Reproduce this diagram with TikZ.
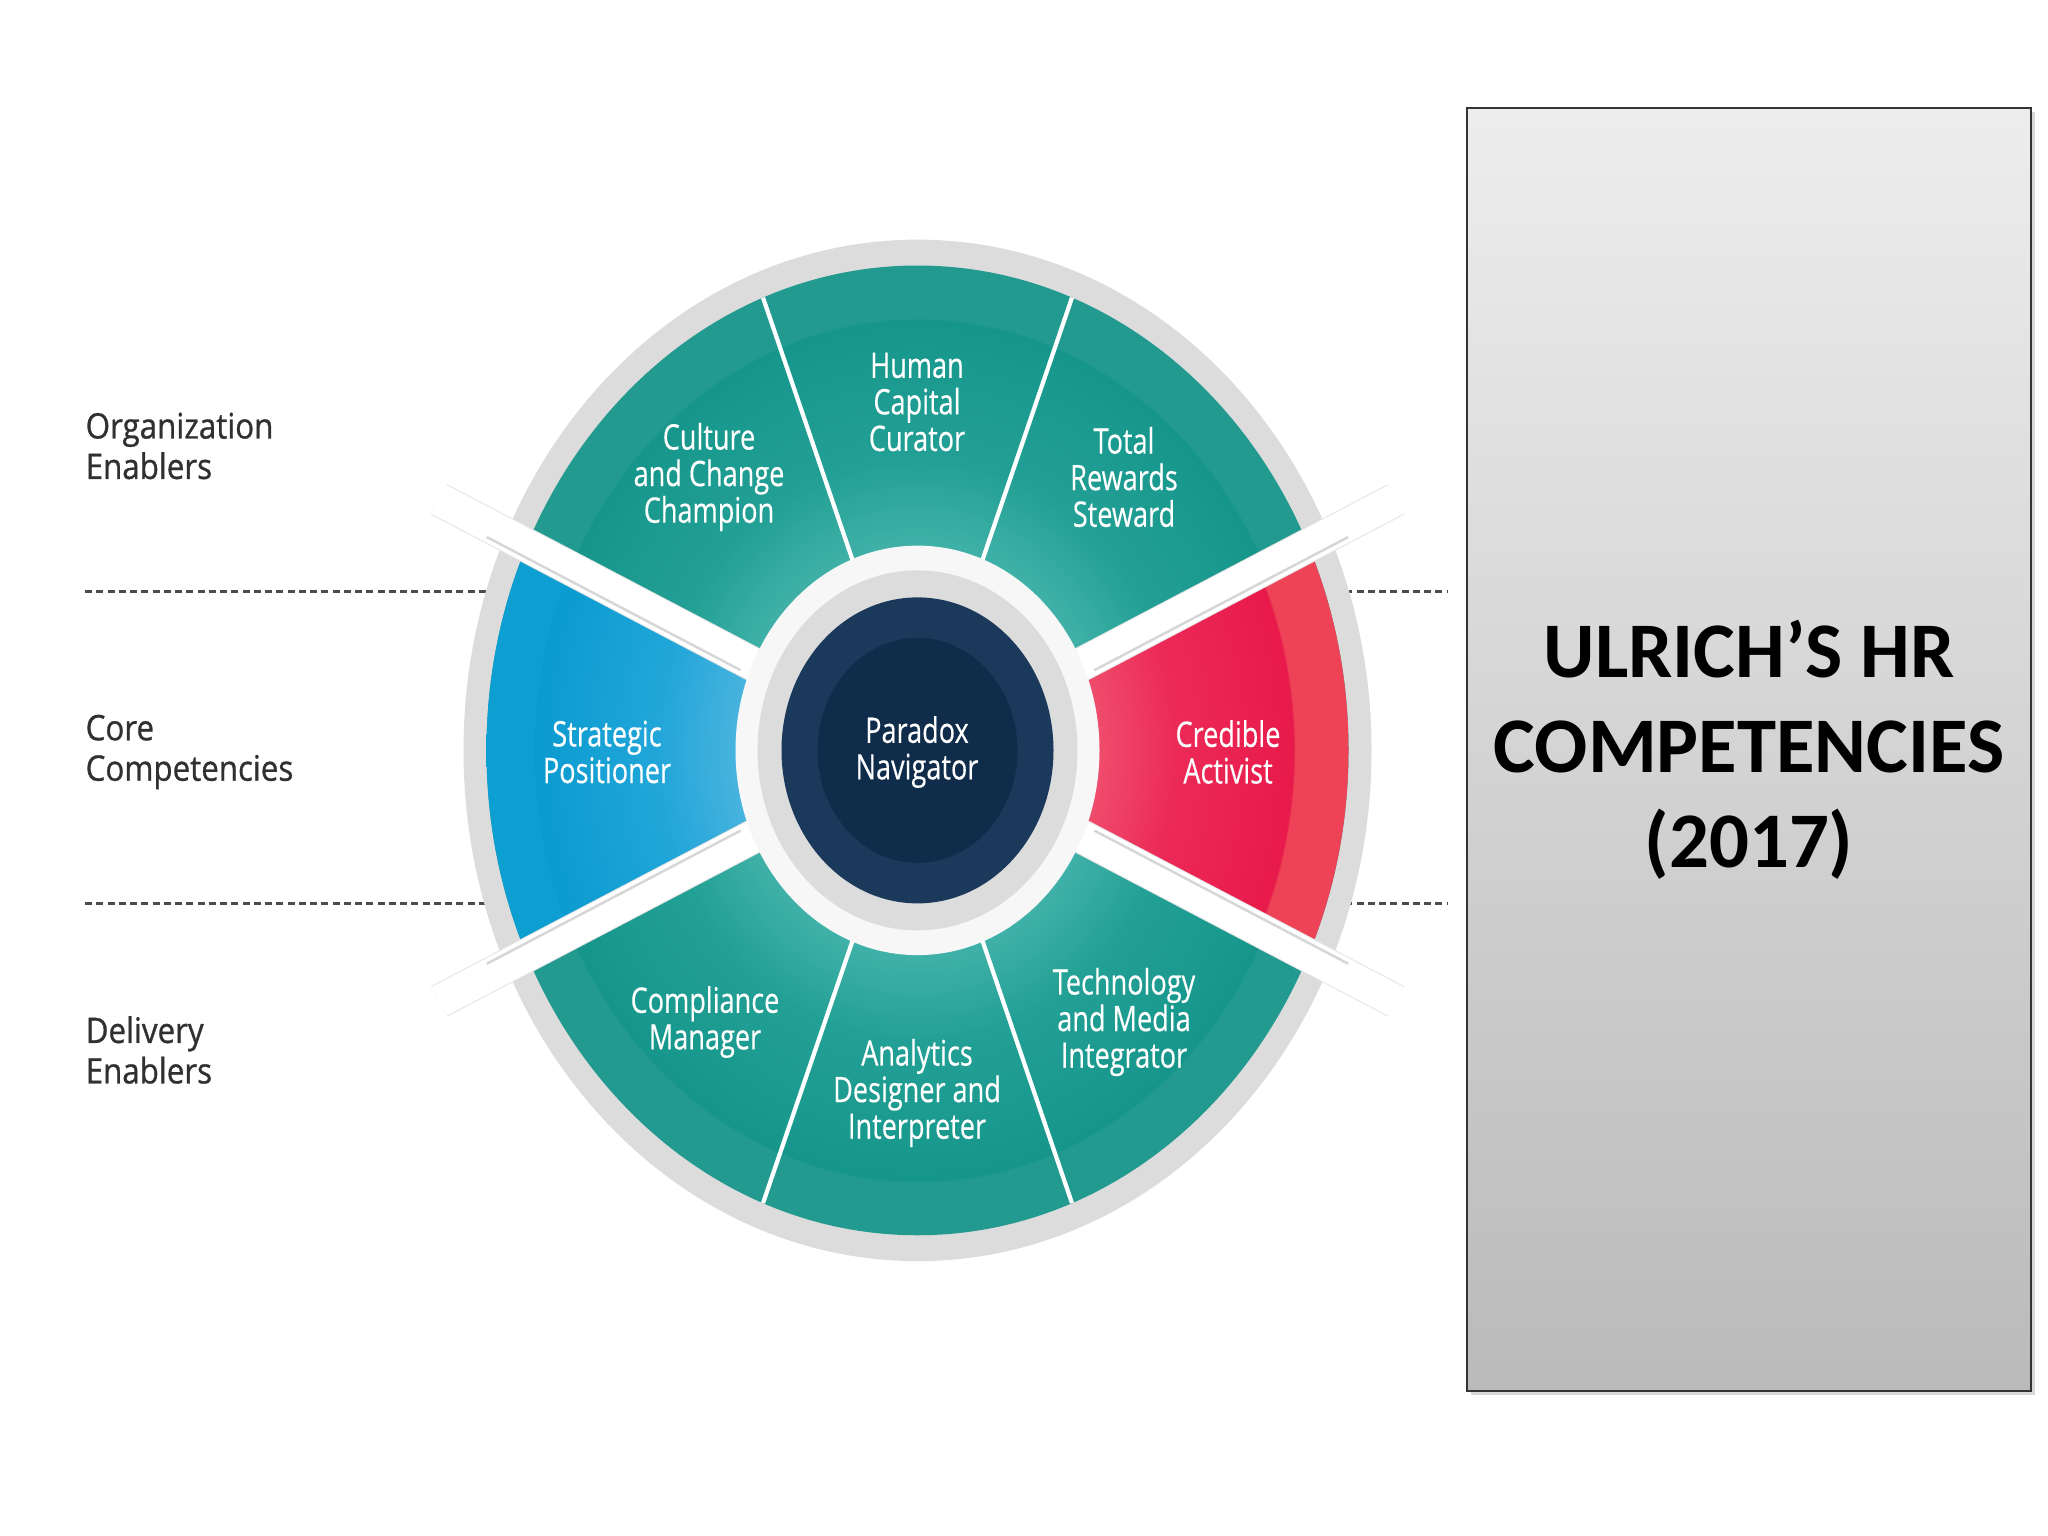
\documentclass[tikz,border=0pt]{standalone}
\usepackage{fontspec}
\setmainfont{Open Sans}
\newfontfamily\labelfont[FakeStretch=0.89, FakeBold=0.8]{Open Sans}
\newfontfamily\wheelfont[FakeStretch=0.77, FakeBold=0.3]{Open Sans}
\newfontfamily\titlefont{Carlito}
\usetikzlibrary{shadows}
\definecolor{tealhub}{HTML}{40B1A8}
\definecolor{tealmid}{HTML}{23A095}
\definecolor{tealdeep}{HTML}{16968B}
\definecolor{tealband}{HTML}{239A90}
\definecolor{bluehub}{HTML}{48B3DE}
\definecolor{bluemid}{HTML}{22A6D9}
\definecolor{bluedeep}{HTML}{0A9BD0}
\definecolor{blueband}{HTML}{0D9ED2}
\definecolor{redhub}{HTML}{EF4C6C}
\definecolor{redmid}{HTML}{EC2A57}
\definecolor{reddeep}{HTML}{E81A4B}
\definecolor{redband}{HTML}{EE4357}
\definecolor{navyout}{HTML}{1B3A5B}
\definecolor{navyin}{HTML}{0F2C4B}
\definecolor{ringgray}{HTML}{DCDCDC}
\definecolor{labelgray}{HTML}{303030}
\pgfdeclareradialshading{tealglow}{\pgfpoint{0bp}{0bp}}{color(0bp)=(tealhub); color(10.5bp)=(tealhub); color(15bp)=(tealmid); color(22.2bp)=(tealdeep); color(22.3bp)=(tealband); color(25bp)=(tealband); color(50bp)=(tealband)}
\pgfdeclareradialshading{blueglow}{\pgfpoint{0bp}{0bp}}{color(0bp)=(bluehub); color(10.5bp)=(bluehub); color(15bp)=(bluemid); color(22.2bp)=(bluedeep); color(22.3bp)=(blueband); color(25bp)=(blueband); color(50bp)=(blueband)}
\pgfdeclareradialshading{redglow}{\pgfpoint{0bp}{0bp}}{color(0bp)=(redhub); color(10.5bp)=(redhub); color(15bp)=(redmid); color(21.8bp)=(reddeep); color(21.9bp)=(redband); color(25bp)=(redband); color(50bp)=(redband)}
\begin{document}
\begin{tikzpicture}[x=0.01cm, y=0.01cm,
  level/.style={anchor=west, align=left, inner sep=0pt, text=labelgray, font=\labelfont\fontsize{10}{11.5}\selectfont},
  role/.style={align=center, text=white, font=\wheelfont\fontsize{10}{10.4}\selectfont, inner sep=0pt},
  divider/.style={dash pattern=on 2pt off 1.2pt, line width=0.85pt, draw=black!70},
  titlebox/.style={draw=black!80, line width=0.6pt, top color=black!7, bottom color=black!27, minimum width=5.64cm, minimum height=12.83cm, align=center, font=\titlefont\bfseries\fontsize{22.4}{27}\selectfont, drop shadow={shadow xshift=0.04cm, shadow yshift=-0.04cm, opacity=0.3}}]
	\useasboundingbox (0,0) rectangle (2048,1536);
	\fill[white] (0,0) rectangle (2048,1536);
	\coordinate (upL) at (85,944);
	\coordinate (upR) at (1447,944);
	\coordinate (loL) at (85,632);
	\coordinate (loR) at (1447,632);
	\draw[divider] (upL) -- (upR);
	\draw[divider] (loL) -- (loR);
	\begin{scope}[shift={(917.5,785.6)}, yscale=1.125]
		\fill[ringgray] (0,0) circle (454);
		\shade[shading=tealglow] (0,0) circle (431);
		\begin{scope}
			\clip (0,0) -- (155:600) arc[start angle=155, end angle=205, radius=600] -- cycle;
			\shade[shading=blueglow] (0,0) circle (431);
		\end{scope}
		\begin{scope}
			\clip (0,0) -- (-25:600) arc[start angle=-25, end angle=25, radius=600] -- cycle;
			\shade[shading=redglow] (0,0) circle (431);
		\end{scope}
		\foreach \a in {69,111,249,291}
			\draw[white, line width=1.2pt] (\a:180) -- (\a:431);
		\foreach \a/\sx/\sy in {25/4.7/-9, 155/-4.7/-9, 205/-4.7/9, 335/4.7/9} {
			\draw[black!10, line width=9.8pt] (\a:170) -- (\a:528);
			\draw[white, line width=9.2pt] (\a:170) -- (\a:528);
			\draw[black!16, line width=0.7pt, shift={(\sx,\sy)}] (\a:190) -- (\a:470);
		}
		\fill[white!97!black] (0,0) circle (182);
		\fill[ringgray] (0,0) circle (160);
		\fill[navyout] (0,0) circle (136);
		\fill[navyin] (0,0) circle (100);
	\end{scope}
	\node[level] (org) at (85,1090) {Organization\\Enablers};
	\node[level] (core) at (85,784) {Core\\Competencies};
	\node[level] (delivery) at (85,486) {Delivery\\Enablers};
	\node[role] (hcc) at (917,1134) {Human\\Capital\\Curator};
	\node[role] (ccc) at (709,1059) {Culture\\and Change\\Champion};
	\node[role] (trs) at (1124,1059) {Total\\Rewards\\Steward};
	\node[role] (sp) at (607,784) {Strategic\\Positioner};
	\node[role] (pn) at (917,784) {Paradox\\Navigator};
	\node[role] (ca) at (1228,784) {Credible\\Activist};
	\node[role] (cm) at (705,514) {Compliance\\Manager};
	\node[role] (adi) at (917,443) {Analytics\\Designer and\\Interpreter};
	\node[role] (tmi) at (1124,514) {Technology\\and Media\\Integrator};
	\node[titlebox] (title) at (1749,786.5) {ULRICH’S HR\\COMPETENCIES\\(2017)};
\end{tikzpicture}
\end{document}
